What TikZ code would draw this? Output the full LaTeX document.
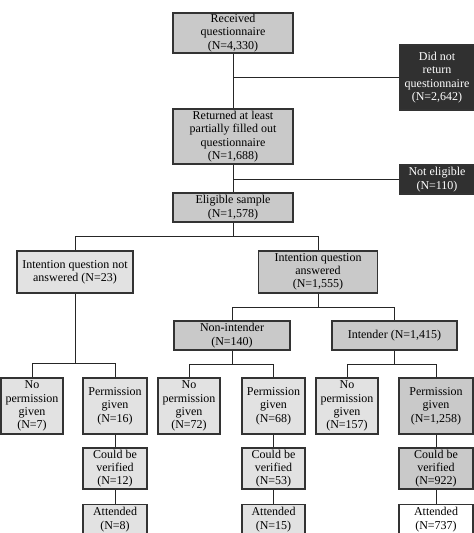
\documentclass[tikz,border=0pt]{standalone}
\usepackage{fontspec}
\setmainfont{Liberation Serif}
\usepackage{tikz}

\definecolor{boxgrey}{HTML}{C9C9C9}
\definecolor{lightgrey}{HTML}{E2E2E2}
\definecolor{darkgrey}{HTML}{303030}

\begin{document}
\begin{tikzpicture}[x=1pt, y=-1pt,
  font=\fontsize{12}{13.3}\selectfont, align=center,
  box/.style={draw=black!80, line width=1.1pt, fill=boxgrey, inner sep=1pt},
  light box/.style={box, fill=lightgrey},
  dark box/.style={box, fill=darkgrey, text=white},
  white box/.style={box, fill=white},
  link/.style={draw=black!85, line width=0.9pt}]
  \clip (0,0) rectangle (474,533);
  % top chain
  \node[box, minimum width=120, minimum height=40] (rec) at (233,33) {Received\\questionnaire\\(N=4,330)};
  \node[dark box, minimum width=75, minimum height=65] (noret) at (437,77.5) {Did not\\return\\questionnaire\\(N=2,642)};
  \node[box, minimum width=120, minimum height=55] (ret) at (233,136.5) {Returned at least\\partially filled out\\questionnaire\\(N=1,688)};
  \node[dark box, minimum width=75, minimum height=29] (inel) at (437,179.5) {Not eligible\\(N=110)};
  \node[box, minimum width=120, minimum height=29] (elig) at (233,207.5) {Eligible sample\\(N=1,578)};
  % intention
  \node[light box, minimum width=116, minimum height=42] (inna) at (75,272) {Intention question not\\answered (N=23)};
  \node[box, minimum width=119, minimum height=42] (ians) at (318,272) {Intention question\\answered\\(N=1,555)};
  \node[box, minimum width=116, minimum height=29] (nonint) at (232,335.5) {Non-intender\\(N=140)};
  \node[box, minimum width=125, minimum height=29] (int) at (394.5,335.5) {Intender (N=1,415)};
  % permission
  \node[light box, minimum width=62, minimum height=56] (nop1) at (32,406) {No\\permission\\given\\(N=7)};
  \node[light box, minimum width=64, minimum height=56] (perm1) at (115,406) {Permission\\given\\(N=16)};
  \node[light box, minimum width=62, minimum height=56] (nop2) at (189,406) {No\\permission\\given\\(N=72)};
  \node[light box, minimum width=63, minimum height=56] (perm2) at (273.5,406) {Permission\\given\\(N=68)};
  \node[light box, minimum width=62, minimum height=56] (nop3) at (347,406) {No\\permission\\given\\(N=157)};
  \node[box, minimum width=74, minimum height=56] (perm3) at (436,406) {Permission\\given\\(N=1,258)};
  % verified and attended
  \node[light box, minimum width=64, minimum height=41] (ver1) at (115,468.5) {Could be\\verified\\(N=12)};
  \node[light box, minimum width=63, minimum height=41] (ver2) at (273.5,468.5) {Could be\\verified\\(N=53)};
  \node[box, minimum width=74, minimum height=41] (ver3) at (436,468.5) {Could be\\verified\\(N=922)};
  \node[light box, minimum width=64, minimum height=30, anchor=north] (att1) at (115,504) {Attended\\(N=8)};
  \node[light box, minimum width=63, minimum height=30, anchor=north] (att2) at (273.5,504) {Attended\\(N=15)};
  \node[white box, minimum width=74, minimum height=30, anchor=north] (att3) at (436,504) {Attended\\(N=737)};
  % connectors
  \draw[link] (rec) -- (ret);
  \draw[link] (rec.south |- noret.west) -- (noret.west);
  \draw[link] (ret) -- (elig);
  \draw[link] (ret.south |- inel.west) -- (inel.west);
  \draw[link] (elig.south) -- ++(0,14) coordinate (f1);
  \draw[link] (inna.north) |- (f1) -| (ians.north);
  \draw[link] (ians.south) -- ++(0,14) coordinate (f2);
  \draw[link] (nonint.north) |- (f2) -| (int.north);
  \draw[link] (inna.south) -- ++(0,70) coordinate (f3);
  \draw[link] (nop1.north) |- (f3) -| (perm1.north);
  \draw[link] (nonint.south) -- ++(0,14) coordinate (f4);
  \draw[link] (nop2.north) |- (f4) -| (perm2.north);
  \draw[link] (int.south) -- ++(0,14) coordinate (f5);
  \draw[link] (nop3.north) |- (f5) -| (perm3.north);
  \foreach \i in {1,2,3} {
    \draw[link] (perm\i) -- (ver\i);
    \draw[link] (ver\i) -- (att\i);
  }
\end{tikzpicture}
\end{document}
